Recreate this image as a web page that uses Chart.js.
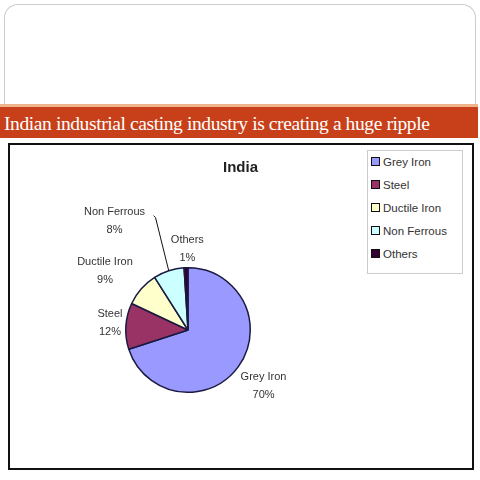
<!DOCTYPE html>
<html><head><meta charset="utf-8">
<script src="https://cdn.jsdelivr.net/npm/chart.js"></script>
<style>
body{margin:0;width:480px;height:480px;background:#fff;position:relative;overflow:hidden;font-family:"Liberation Sans",Arial,sans-serif}
#top{position:absolute;left:4px;top:4px;width:470px;height:100px;border:1px solid #ccc;border-bottom:none;border-radius:14px 14px 0 0}
#bar{position:absolute;left:0;top:104px;width:478px;height:34px;background:#c8401a;color:#fff;font-family:"Liberation Serif","Times New Roman",serif;font-size:19.5px;letter-spacing:-0.4px;white-space:nowrap;line-height:34px;padding-left:4px;box-sizing:border-box;border-top:3px solid #f0b48c}
#frame{position:absolute;left:8px;top:143px;width:466px;height:327px;border:2px solid #111;box-sizing:border-box}
#c{position:absolute;left:0;top:0}
#title{position:absolute;left:213px;top:13px;font-weight:bold;font-size:15px;color:#222}
#legend{position:absolute;left:357px;top:5px;width:90px;border:1px solid #ccc;padding:3px 2px 4px;font-size:11.5px;color:#333;background:#fff}
#legend div{height:23px;line-height:16px;display:flex;align-items:flex-start;white-space:nowrap}
#legend span{display:inline-block;width:7px;height:7px;border:1.5px solid #111;margin:3px 3px 0 1px;flex:none}
</style></head><body>
<div id="top"></div>
<div id="bar">Indian industrial casting industry is creating a huge ripple</div>
<div id="frame"><canvas id="c" width="462" height="323"></canvas><div id="title">India</div><div id="legend"></div></div>
<script>
const categories=["Grey Iron","Steel","Ductile Iron","Non Ferrous","Others"];
const shares=[70,12,9,8,1];
const colors=["#9999ff","#993366","#ffffcc","#ccffff","#330033"];
const labelFactors=[1.5,1.32,1.5,2.0,1.35];
const labelShift=[[0,0],[4,-3],[-13,2],[-35,8],[2,2]];
const labelPlugin={id:'lbl',afterDatasetsDraw(chart){
 const ctx=chart.ctx;const meta=chart.getDatasetMeta(0);
 ctx.save();ctx.font='11px "Liberation Sans",Arial';ctx.fillStyle='#333';ctx.textAlign='center';ctx.textBaseline='middle';
 meta.data.forEach((a,i)=>{const m=(a.startAngle+a.endAngle)/2;const r=a.outerRadius*labelFactors[i];
  const x=a.x+Math.cos(m)*r+labelShift[i][0],y=a.y+Math.sin(m)*r+labelShift[i][1];
  if(i===3){ctx.strokeStyle='#111';ctx.lineWidth=1;ctx.beginPath();
   ctx.moveTo(a.x+Math.cos(m)*a.outerRadius,a.y+Math.sin(m)*a.outerRadius);ctx.lineTo(x+41,y-2);ctx.lineTo(x+39,y-4);ctx.stroke();}
  ctx.fillText(categories[i],x,y-8);ctx.fillText(shares[i]+'%',x,y+10);});
 ctx.restore();}};
new Chart(document.getElementById('c'),{type:'pie',
 data:{labels:categories,datasets:[{data:shares,backgroundColor:colors,borderColor:'#1a1a40',borderWidth:1.5}]},
 options:{responsive:false,animation:false,layout:{padding:{left:115,right:221,top:122,bottom:75}},
  plugins:{legend:{display:false},tooltip:{enabled:false}}},plugins:[labelPlugin]});
document.getElementById('legend').innerHTML=categories.map((c,i)=>`<div><span style="background:${colors[i]}"></span>${c}</div>`).join('');
</script></body></html>
